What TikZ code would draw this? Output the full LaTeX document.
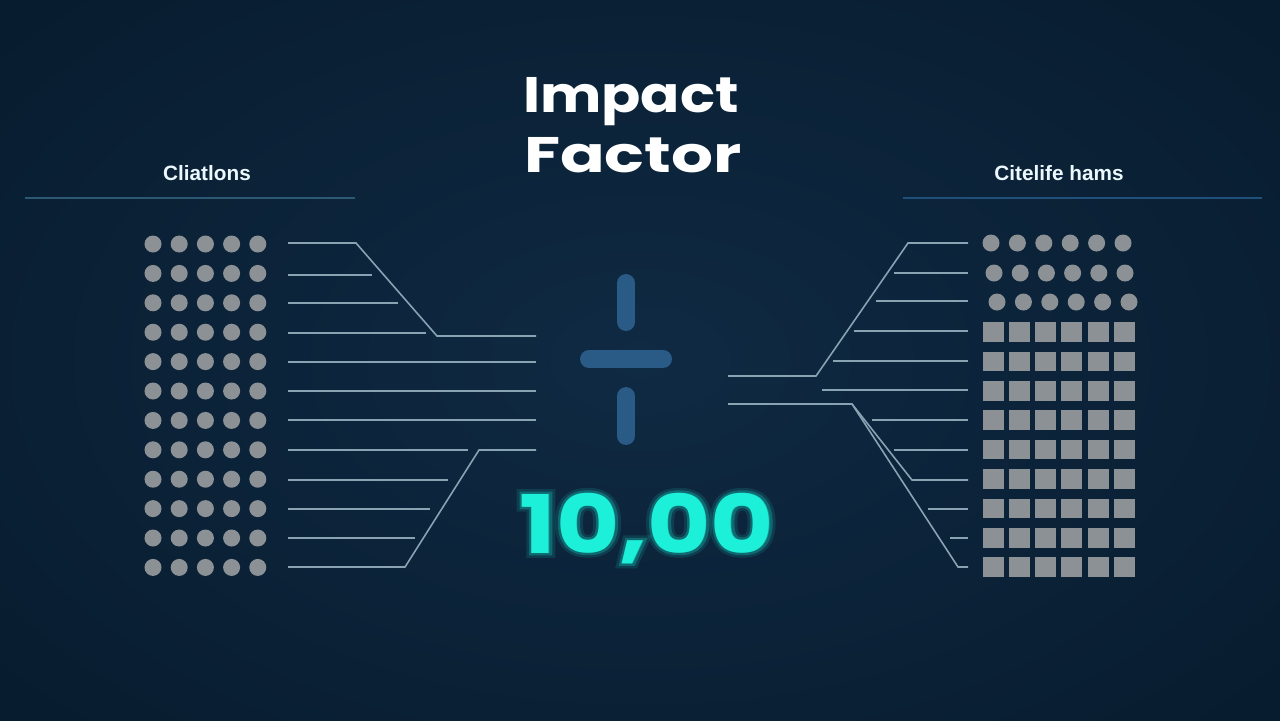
\documentclass[tikz,border=0pt]{standalone}
\usepackage{fontspec}
\newfontfamily\pop{Poppins}
\newfontfamily\popglowa[FakeBold=6]{Poppins}
\newfontfamily\popglowb[FakeBold=12]{Poppins}
\newfontfamily\lib{Liberation Sans}
\definecolor{bgout}{HTML}{081C2F}
\definecolor{bgin}{HTML}{0F2A43}
\definecolor{dotc}{HTML}{8C9196}
\definecolor{linec}{HTML}{8AA3B3}
\definecolor{divc}{HTML}{2A5A86}
\definecolor{cyanc}{HTML}{1CF0D8}
\definecolor{ulleft}{HTML}{2B5873}
\definecolor{ulright}{HTML}{1F507A}
\tikzset{
  ln/.style={draw=linec, line width=0.45pt, line join=miter},
  dotstyle/.style={fill=dotc},
  divbar/.style={draw=divc, line width=5.1pt, line cap=round},
  lbl/.style={text=white!92!cyan, font=\lib\bfseries\fontsize{5.9}{7}\selectfont, inner sep=0pt},
  ttl/.style={text=white, font=\pop\bfseries\fontsize{14.2}{17}\selectfont, inner sep=0pt, anchor=base},
  numtxt/.style={text=cyanc, inner sep=0pt, anchor=base},
}
\begin{document}
\begin{tikzpicture}[x=0.01cm,y=-0.01cm]
\useasboundingbox (0,0) rectangle (1280,720);
\shade[inner color=bgin, outer color=bgout] (-200,-150) rectangle (1480,870);
% title
\node[ttl] (t1) at (631,112) {\scalebox{1.16}[1]{Impact}};
\node[ttl] (t2) at (633,172) {\scalebox{1.32}[1]{Factor}};
% labels
\node[lbl] (lc) at (207,173) {Cliatlons};
\node[lbl] (rc) at (1059,173) {Citelife hams};
\draw[draw=ulleft, line width=0.6pt] (25,198) -- (355,198);
\draw[draw=ulright, line width=0.6pt] (903,198) -- (1262,198);
% left dot grid
\foreach \r in {0,...,11}{
  \foreach \c in {0,...,4}{
    \fill[dotstyle] ({153+26.2*\c},{244+29.4*\r}) circle[radius=0.085cm];
  }
}
% left lines
\draw[ln] (288,243) -- (356,243) -- (437,336) -- (536,336);
\draw[ln] (288,275) -- (372,275);
\draw[ln] (288,303) -- (398,303);
\draw[ln] (288,333) -- (426,333);
\draw[ln] (288,362) -- (536,362);
\draw[ln] (288,391) -- (536,391);
\draw[ln] (288,420) -- (536,420);
\draw[ln] (288,450) -- (468,450);
\draw[ln] (536,450) -- (479,450) -- (405,567) -- (288,567);
\draw[ln] (288,480) -- (448,480);
\draw[ln] (288,509) -- (430,509);
\draw[ln] (288,538) -- (415,538);
% division symbol
\draw[divbar] (626,283) -- (626,322);
\draw[divbar] (589,359) -- (663,359);
\draw[divbar] (626,396) -- (626,436);
% number with glow
\node[numtxt, opacity=0.12, font=\popglowb\bfseries\fontsize{23}{26}\selectfont] (glowb) at (647,553) {\scalebox{1.2}[1]{10,00}};
\node[numtxt, opacity=0.25, font=\popglowa\bfseries\fontsize{23}{26}\selectfont] (glowa) at (647,553) {\scalebox{1.2}[1]{10,00}};
\node[numtxt, font=\pop\bfseries\fontsize{23}{26}\selectfont] (num) at (647,553) {\scalebox{1.2}[1]{10,00}};
% right circles
\foreach \c in {0,...,5}{
  \fill[dotstyle] ({991+26.4*\c},243) circle[radius=0.085cm];
  \fill[dotstyle] ({994+26.2*\c},273) circle[radius=0.085cm];
  \fill[dotstyle] ({997+26.4*\c},302) circle[radius=0.085cm];
}
% right squares
\foreach \r in {0,...,8}{
  \foreach \c in {0,...,5}{
    \fill[dotstyle] ({993+26.3*\c-10.5},{332+29.4*\r-9.8}) rectangle ++(21,19.6);
  }
}
% right lines
\draw[ln] (968,243) -- (908,243) -- (816,376) -- (728,376);
\draw[ln] (894,273) -- (968,273);
\draw[ln] (876,301) -- (968,301);
\draw[ln] (854,331) -- (968,331);
\draw[ln] (833,361) -- (968,361);
\draw[ln] (822,390) -- (968,390);
\draw[ln] (728,404) -- (852,404) -- (912,480) -- (968,480);
\draw[ln] (852,404) -- (958,567) -- (968,567);
\draw[ln] (872,420) -- (968,420);
\draw[ln] (894,450) -- (968,450);
\draw[ln] (928,509) -- (968,509);
\draw[ln] (950,538) -- (968,538);
\end{tikzpicture}
\end{document}
